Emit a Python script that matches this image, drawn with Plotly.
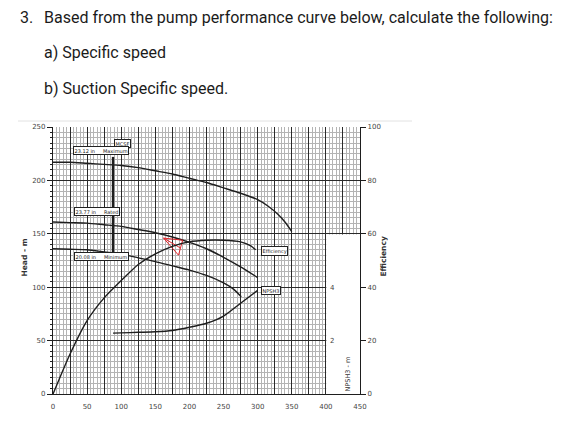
import plotly.graph_objects as go

# ---------------- data ----------------
flow_max = [0, 25, 50, 75, 100, 125, 150, 175, 200, 225, 250, 275, 300, 315, 330, 340, 350]
head_max = [217, 217, 216, 215, 214, 212, 209, 206, 202, 198, 193, 188, 182, 176, 168, 161, 152]

flow_rated = [0, 25, 50, 75, 100, 125, 150, 175, 200, 225, 250, 275, 300]
head_rated = [161, 160.5, 160, 158.5, 157, 154, 151, 147, 142, 136, 128, 119, 109]

flow_min = [0, 25, 50, 75, 100, 125, 150, 175, 200, 225, 250, 265, 276]
head_min = [136, 135.5, 135, 133, 131, 127.5, 124, 120, 116, 111, 104, 98, 91]

flow_eff = [0, 25, 50, 75, 100, 125, 150, 175, 200, 225, 250, 275, 290, 297]
eff_pct = [0, 15, 27.5, 36, 42.5, 48.5, 52.5, 55.3, 57, 57.6, 57.6, 57, 55.5, 54]

flow_npsh = [88, 100, 125, 150, 175, 200, 225, 250, 275, 300]
npsh_m = [2.28, 2.29, 2.31, 2.33, 2.38, 2.50, 2.65, 2.92, 3.40, 3.88]

mcsf_flow = [88, 88]
mcsf_head = [130, 222]

marker_flow = [162, 190, 184, 162, 186]
marker_head = [146, 144, 130, 146, 137]

x_ticks = list(range(0, 451, 25))
x_labels = [str(v) if v % 50 == 0 else "" for v in x_ticks]
y_ticks = [0, 50, 100, 150, 200, 250]
eff_ticks = [0, 20, 40, 60, 80, 100]
npsh_ticks = [2, 4]

box_labels = [
    ("MCSF", 102, 235),
    ("23.12 in     Maximum", 71, 228),
    ("23.77 in     Rated", 64, 170.5),
    ("20.08 in     Minimum", 70.5, 129),
    ("Efficiency", 325, 134),
    ("NPSH3", 320, 97),
]

question = [
    ("3.", 18, 18),
    ("Based from the pump performance curve below, calculate the following:", 42, 18),
    ("a) Specific speed", 42, 52),
    ("b) Suction Specific speed.", 42, 88),
]

# ---------------- layout helpers ----------------
W, H = 582, 427
L, R, T, B = 53, 222, 127, 33
PW, PH = W - L - R, H - T - B


def px(x):
    return (x - L) / PW


def py(y):
    return (H - B - y) / PH


LINE = "#1e1e1e"
fig = go.Figure()

line_style = dict(color=LINE, width=1.4, shape="spline", smoothing=0.6)
for fx, hy in [(flow_max, head_max), (flow_rated, head_rated), (flow_min, head_min)]:
    fig.add_trace(go.Scatter(x=fx, y=hy, mode="lines", line=line_style,
                             showlegend=False, hoverinfo="skip"))

fig.add_trace(go.Scatter(x=flow_eff, y=eff_pct, mode="lines", line=line_style,
                         yaxis="y2", showlegend=False, hoverinfo="skip"))
fig.add_trace(go.Scatter(x=flow_npsh, y=npsh_m, mode="lines", line=line_style,
                         yaxis="y3", showlegend=False, hoverinfo="skip"))
fig.add_trace(go.Scatter(x=mcsf_flow, y=mcsf_head, mode="lines",
                         line=dict(color=LINE, width=2.4),
                         showlegend=False, hoverinfo="skip"))
fig.add_trace(go.Scatter(x=marker_flow, y=marker_head, mode="lines",
                         line=dict(color="#e0242a", width=1),
                         showlegend=False, hoverinfo="skip"))

tickfont = dict(family="DejaVu Sans", size=7, color="#444")

fig.update_layout(
    width=W, height=H,
    margin=dict(l=L, r=R, t=T, b=B, pad=0),
    paper_bgcolor="white", plot_bgcolor="white",
    showlegend=False,
    xaxis=dict(range=[0, 450], tickmode="array", tickvals=x_ticks, ticktext=x_labels,
               showgrid=True, gridcolor="#2a2a2a", gridwidth=1.2,
               minor=dict(dtick=5, showgrid=True, gridcolor="#b4b4b4", gridwidth=0.6),
               showline=True, linecolor=LINE, linewidth=1.2,
               ticks="", ticklabelstandoff=5, tickfont=tickfont, zeroline=False),
    yaxis=dict(range=[0, 250], tickmode="array", tickvals=y_ticks,
               showgrid=True, gridcolor="#2a2a2a", gridwidth=1.2,
               minor=dict(dtick=5, showgrid=True, gridcolor="#b4b4b4", gridwidth=0.6,
                          ticks="outside", ticklen=2, tickcolor=LINE),
               showline=True, linecolor=LINE, linewidth=1.2,
               ticks="outside", ticklen=5, tickcolor=LINE,
               tickfont=tickfont, zeroline=False),
    yaxis2=dict(range=[0, 100], overlaying="y", side="right", anchor="x",
                tickmode="array", tickvals=eff_ticks, showgrid=False,
                showline=True, linecolor=LINE, linewidth=1.2,
                ticks="outside", ticklen=5, tickcolor=LINE,
                tickfont=tickfont, zeroline=False),
    yaxis3=dict(range=[0, 10], overlaying="y", side="right", anchor="free",
                position=400 / 450, tickmode="array", tickvals=npsh_ticks,
                showgrid=False, showline=False, ticks="",
                ticklabelstandoff=3, tickfont=tickfont, zeroline=False),
)

# hide grid in lower-right strip (x 400-450 below head 150)
fig.add_shape(type="rect", xref="x", yref="y", x0=400.6, x1=451, y0=-1, y1=149.4,
              fillcolor="white", line_width=0, layer="between")
# document separator line
fig.add_shape(type="line", xref="paper", yref="paper", x0=px(18), x1=px(412),
              y0=py(121), y1=py(121), line=dict(color="#e2e2e2", width=1))

for text, fx, hy in box_labels:
    fig.add_annotation(x=fx, y=hy, xref="x", yref="y", text=text, showarrow=False,
                       font=dict(family="DejaVu Sans", size=5, color="#222"),
                       bgcolor="white", bordercolor="#222", borderwidth=1, borderpad=0.5)

for text, x0, y0 in question:
    fig.add_annotation(x=px(x0), y=py(y0), xref="paper", yref="paper", text=text,
                       showarrow=False, xanchor="left", yanchor="middle",
                       font=dict(family="Roboto", size=16, color="#1b1b1b"))

fig.add_annotation(x=px(17), y=py(258), xref="paper", yref="paper", text="<b>Head - m</b>",
                   textangle=-90, showarrow=False,
                   font=dict(family="DejaVu Sans", size=7.5, color="#333"))
fig.add_annotation(x=px(389), y=py(257), xref="paper", yref="paper", text="<b>Efficiency</b>",
                   textangle=-90, showarrow=False,
                   font=dict(family="DejaVu Sans", size=7.5, color="#333"))
fig.add_annotation(x=px(353), y=py(394), xref="paper", yref="paper", text="NPSH3 - m",
                   textangle=-90, showarrow=False, yanchor="bottom",
                   font=dict(family="DejaVu Sans", size=6.5, color="#333"))

fig.write_html("out.html")
